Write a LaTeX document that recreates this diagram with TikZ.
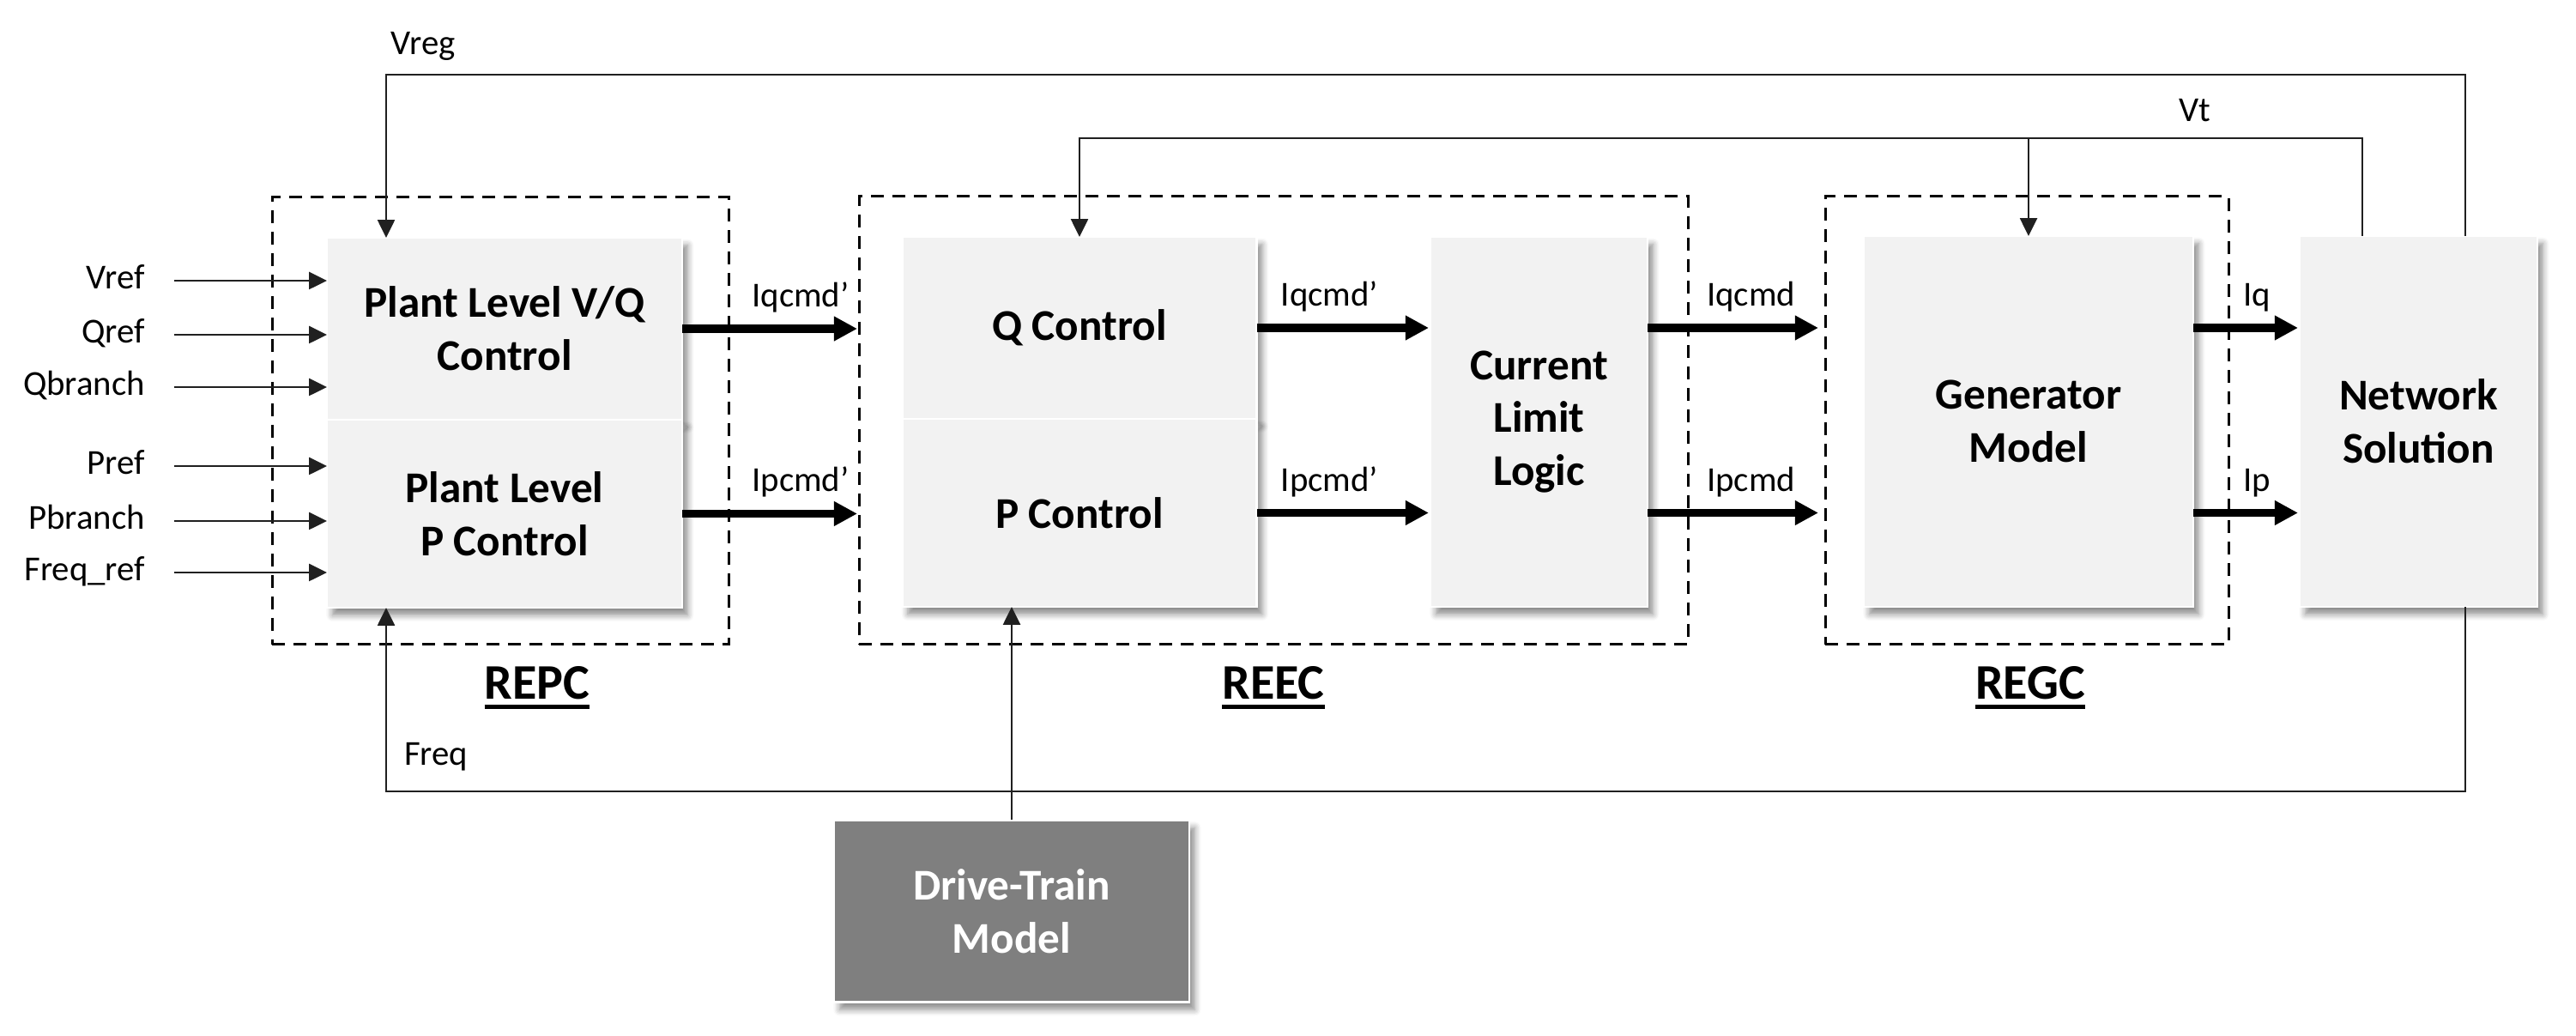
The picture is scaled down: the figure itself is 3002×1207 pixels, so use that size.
\documentclass[tikz,border=0pt]{standalone}
\usepackage{fontspec}
\setmainfont{Carlito}
\usetikzlibrary{arrows.meta,shadows.blur}
\definecolor{boxfill}{HTML}{F2F2F2}
\definecolor{drivefill}{HTML}{7F7F7F}
\definecolor{linegray}{HTML}{202020}
\newcommand\blkfont{\fontsize{12.8}{15.4}\selectfont\bfseries}
\newcommand\lblfont{\fontsize{10.2}{12.2}\selectfont}
\newcommand\secfont{\fontsize{14.5}{17}\selectfont\bfseries}
\begin{document}
\begin{tikzpicture}[x=0.25pt,y=-0.25pt,
  shadowed/.style={blur shadow={shadow xshift=1.6pt, shadow yshift=-2.2pt, shadow blur radius=1.8pt, shadow blur steps=6, shadow opacity=45}},
  blk/.style={rectangle, fill=boxfill, draw=white, line width=0.6pt, inner sep=0pt, outer sep=0pt, align=center, font=\blkfont},
  drv/.style={blk, fill=drivefill, text=white},
  grp/.style={rectangle, draw=black, line width=0.75pt, dash pattern=on 3.75pt off 2.5pt, inner sep=0pt, outer sep=0pt},
  lbl/.style={font=\lblfont, inner sep=0pt, outer sep=0pt, text=black},
  seclbl/.style={font=\secfont, inner sep=0pt, outer sep=0pt},
  bigarrow/.style={line width=2.3pt, -{Triangle[length=6.8pt,width=6.8pt]}, shorten >=0.5pt},
  fbarrow/.style={line width=0.5pt, draw=linegray, -{Triangle[length=5.2pt,width=5pt]}},
  uline/.style={line width=1.1pt, draw=black}
]
\useasboundingbox (0,0) rectangle (3002,1207);

% group boxes
\node[grp, minimum width=133pt, minimum height=130.25pt] (repc) at (583,490.5) {};
\node[grp, minimum width=241.5pt, minimum height=130.5pt] (reec) at (1484,490) {};
\node[grp, minimum width=117.5pt, minimum height=130.5pt] (regc) at (2362,490) {};

% blocks
\node[blk, shadowed, minimum width=103.5pt, minimum height=53pt] (plantvq) at (588,383) {Plant Level V/Q\\Control};
\node[blk, shadowed, minimum width=103.5pt, minimum height=54.75pt] (plantp) at (588,598.5) {Plant Level\\P Control};
\node[blk, shadowed, minimum width=103.25pt, minimum height=53pt] (qctrl) at (1258,382) {Q Control};
\node[blk, shadowed, minimum width=103.25pt, minimum height=54.75pt] (pctrl) at (1258,597.5) {P Control};
\node[blk, shadowed, minimum width=63.25pt, minimum height=107.75pt] (cll) at (1793.5,491.5) {Current\\Limit\\Logic};
\node[blk, shadowed, minimum width=96pt, minimum height=108pt] (gen) at (2364,491) {Generator\\Model};
\node[blk, shadowed, minimum width=69.25pt, minimum height=108pt] (net) at (2818.5,491) {Network\\Solution};
\node[drv, shadowed, minimum width=103.5pt, minimum height=53pt] (drive) at (1179,1061.5) {Drive-Train\\Model};

% section labels
\node[seclbl, anchor=base] (lrepc) at (626,815) {REPC};
\node[seclbl, anchor=base] (lreec) at (1484,815) {REEC};
\node[seclbl, anchor=base] (lregc) at (2366,815) {REGC};
\foreach \n in {lrepc,lreec,lregc}{
  \draw[uline] ([yshift=-2.1pt]\n.base west) -- ([yshift=-2.1pt]\n.base east);
}

% input signals
\foreach \nm/\txt/\yy/\tgt in {ivref/Vref/327/plantvq, iqref/Qref/390/plantvq, iqbr/Qbranch/451/plantvq, ipref/Pref/543/plantp, ipbr/Pbranch/607/plantp, ifref/Freq\_ref/667/plantp}{
  \coordinate (\nm) at (203,\yy);
  \node[lbl, anchor=base east] (\nm l) at ([xshift=-8.5pt,yshift=-2.5pt]\nm) {\txt};
  \draw[fbarrow] (\nm) -- (\tgt.west |- \nm);
}

% main signal arrows
\draw[bigarrow] (plantvq.east) -- (reec.west |- plantvq.east)
  node[lbl, pos=0.67, anchor=base, yshift=6.25pt] {Iqcmd’};
\draw[bigarrow] (plantp.east) -- (reec.west |- plantp.east)
  node[lbl, pos=0.67, anchor=base, yshift=6.6pt] {Ipcmd’};
\draw[bigarrow] (qctrl.east) -- (cll.west |- qctrl.east)
  node[lbl, pos=0.42, anchor=base, yshift=6.25pt] {Iqcmd’};
\draw[bigarrow] (pctrl.east) -- (cll.west |- pctrl.east)
  node[lbl, pos=0.42, anchor=base, yshift=6.25pt] {Ipcmd’};
\draw[bigarrow] (cll.east |- qctrl.east) -- ([xshift=-1.5pt]regc.west |- qctrl.east)
  node[lbl, pos=0.6, anchor=base, yshift=6.25pt] {Iqcmd};
\draw[bigarrow] (cll.east |- pctrl.east) -- ([xshift=-1.5pt]regc.west |- pctrl.east)
  node[lbl, pos=0.6, anchor=base, yshift=6.25pt] {Ipcmd};
\draw[bigarrow] (gen.east |- qctrl.east) -- (net.west |- qctrl.east)
  node[lbl, pos=0.6, anchor=base, yshift=6.25pt] {Iq};
\draw[bigarrow] (gen.east |- pctrl.east) -- (net.west |- pctrl.east)
  node[lbl, pos=0.6, anchor=base, yshift=6.25pt] {Ip};

% feedback: Vreg
\coordinate (vregr) at (2873,87);
\coordinate (vregl) at (450,87);
\draw[fbarrow] (net.north -| vregr) -- (vregr) -- (vregl) -- (plantvq.north -| vregl);
\node[lbl, anchor=base] (lvreg) at (493,64) {Vreg};

% feedback: Vt
\coordinate (vtr) at (2753,161);
\coordinate (vtl) at (1258,161);
\draw[fbarrow] (net.north -| vtr) -- (vtr) -- (vtl) -- (qctrl.north);
\draw[fbarrow] (gen.north |- vtr) -- (gen.north);
\node[lbl, anchor=base] (lvt) at (2558,142) {Vt};

% feedback: Freq
\coordinate (frr) at (2873,922);
\coordinate (frl) at (450,922);
\draw[fbarrow] (net.south -| frr) -- (frr) -- (frl) -- (plantp.south -| frl);
\node[lbl, anchor=base west] (lfreq) at (471,892) {Freq};

% drive train
\draw[fbarrow] (drive.north) -- (pctrl.south -| drive.north);
\end{tikzpicture}
\end{document}
